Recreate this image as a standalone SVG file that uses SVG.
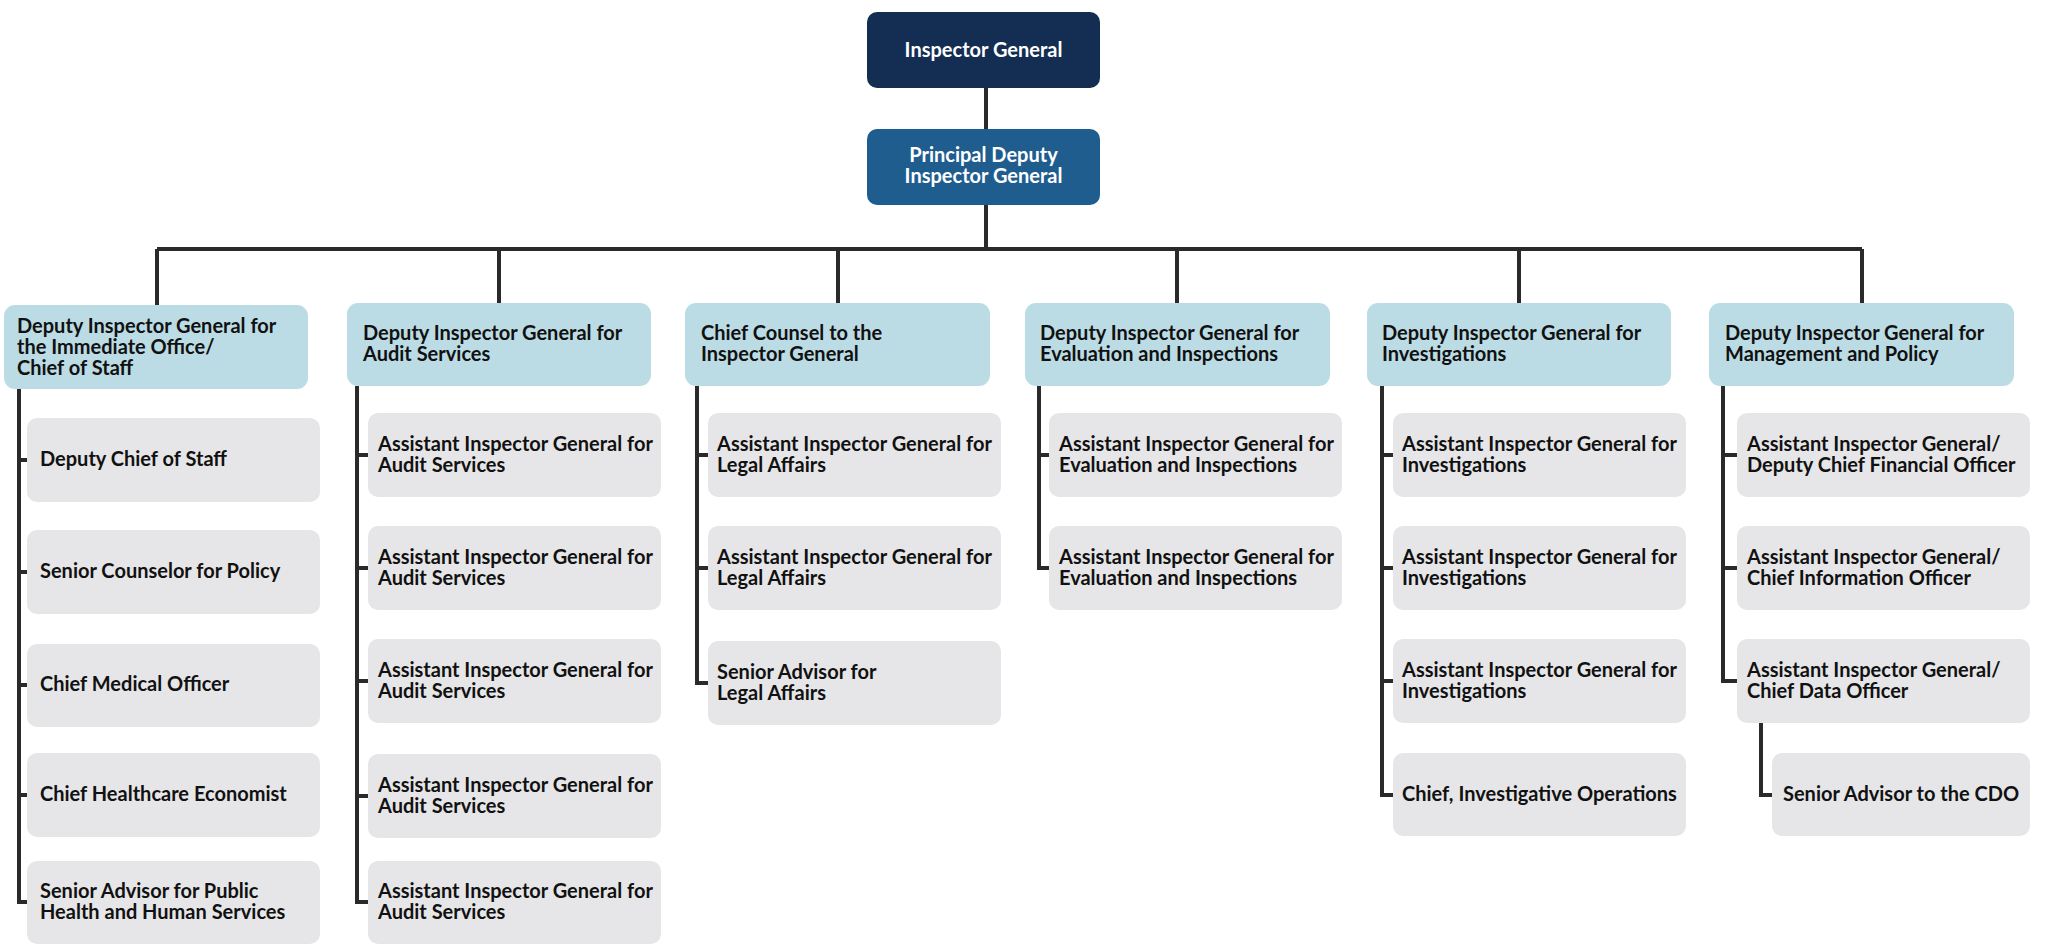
<svg xmlns="http://www.w3.org/2000/svg" width="2048" height="952" viewBox="0 0 2048 952">
<style>
text{font-family:Lato,"Open Sans","Liberation Sans",sans-serif;font-weight:bold;font-size:20px;fill:#111}
.w{fill:#fff;text-anchor:middle}
.top{fill:#132e52}
.pd{fill:#1f5d8f}
.hd{fill:#bcdce5}
.ch{fill:#e6e6e8}
.ln{fill:none;stroke:#2a2a2a;stroke-width:4;stroke-linejoin:miter}
</style>
<rect width="2048" height="952" fill="#fff"/>
<g id="connectors" class="ln">
<path d="M986 88V129M986 205V249M157 249H1862M157 249V305M499 249V303M838 249V303M1177 249V303M1519 249V303M1862 249V303"/>
<path d="M19 389V902H27M19 460H27M19 572H27M19 685H27M19 795H27"/>
<path d="M357 386V902H368M357 455H368M357 568H368M357 681H368M357 796H368"/>
<path d="M697 386V683H708M697 455H708M697 568H708"/>
<path d="M1039 386V568H1049M1039 455H1049"/>
<path d="M1382 386V795H1393M1382 455H1393M1382 568H1393M1382 681H1393"/>
<path d="M1723 386V681H1737M1723 455H1737M1723 568H1737"/>
<path d="M1761 723V795H1772"/>
</g>
<g id="ig"><rect class="top" x="867" y="12" width="233" height="76" rx="10"/><text class="w" x="983.5" y="57">Inspector General</text></g>
<g id="pdig"><rect class="pd" x="867" y="129" width="233" height="76" rx="10"/><text class="w" x="983.5" y="162">Principal Deputy</text><text class="w" x="983.5" y="183">Inspector General</text></g>

<g id="h1"><rect class="hd" x="4" y="305" width="304" height="84" rx="11"/><text x="17" y="333">Deputy Inspector General for</text><text x="17" y="354">the Immediate Office/</text><text x="17" y="375">Chief of Staff</text></g>
<g id="h2"><rect class="hd" x="347" y="303" width="304" height="83" rx="11"/><text x="363" y="340">Deputy Inspector General for</text><text x="363" y="361">Audit Services</text></g>
<g id="h3"><rect class="hd" x="685" y="303" width="305" height="83" rx="11"/><text x="701" y="340">Chief Counsel to the</text><text x="701" y="361">Inspector General</text></g>
<g id="h4"><rect class="hd" x="1025" y="303" width="305" height="83" rx="11"/><text x="1040" y="340">Deputy Inspector General for</text><text x="1040" y="361">Evaluation and Inspections</text></g>
<g id="h5"><rect class="hd" x="1367" y="303" width="304" height="83" rx="11"/><text x="1382" y="340">Deputy Inspector General for</text><text x="1382" y="361">Investigations</text></g>
<g id="h6"><rect class="hd" x="1709" y="303" width="305" height="83" rx="11"/><text x="1725" y="340">Deputy Inspector General for</text><text x="1725" y="361">Management and Policy</text></g>

<g id="c1a"><rect class="ch" x="27" y="418" width="293" height="84" rx="10"/><text x="40" y="466">Deputy Chief of Staff</text></g>
<g id="c1b"><rect class="ch" x="27" y="530" width="293" height="84" rx="10"/><text x="40" y="578">Senior Counselor for Policy</text></g>
<g id="c1c"><rect class="ch" x="27" y="644" width="293" height="83" rx="10"/><text x="40" y="691">Chief Medical Officer</text></g>
<g id="c1d"><rect class="ch" x="27" y="753" width="293" height="84" rx="10"/><text x="40" y="801">Chief Healthcare Economist</text></g>
<g id="c1e"><rect class="ch" x="27" y="861" width="293" height="83" rx="10"/><text x="40" y="898">Senior Advisor for Public</text><text x="40" y="919">Health and Human Services</text></g>

<g id="c2a"><rect class="ch" x="368" y="413" width="293" height="84" rx="10"/><text x="378" y="451">Assistant Inspector General for</text><text x="378" y="472">Audit Services</text></g>
<g id="c2b"><rect class="ch" x="368" y="526" width="293" height="84" rx="10"/><text x="378" y="564">Assistant Inspector General for</text><text x="378" y="585">Audit Services</text></g>
<g id="c2c"><rect class="ch" x="368" y="639" width="293" height="84" rx="10"/><text x="378" y="677">Assistant Inspector General for</text><text x="378" y="698">Audit Services</text></g>
<g id="c2d"><rect class="ch" x="368" y="754" width="293" height="84" rx="10"/><text x="378" y="792">Assistant Inspector General for</text><text x="378" y="813">Audit Services</text></g>
<g id="c2e"><rect class="ch" x="368" y="861" width="293" height="83" rx="10"/><text x="378" y="898">Assistant Inspector General for</text><text x="378" y="919">Audit Services</text></g>

<g id="c3a"><rect class="ch" x="708" y="413" width="293" height="84" rx="10"/><text x="717" y="451">Assistant Inspector General for</text><text x="717" y="472">Legal Affairs</text></g>
<g id="c3b"><rect class="ch" x="708" y="526" width="293" height="84" rx="10"/><text x="717" y="564">Assistant Inspector General for</text><text x="717" y="585">Legal Affairs</text></g>
<g id="c3c"><rect class="ch" x="708" y="641" width="293" height="84" rx="10"/><text x="717" y="679">Senior Advisor for</text><text x="717" y="700">Legal Affairs</text></g>

<g id="c4a"><rect class="ch" x="1049" y="413" width="293" height="84" rx="10"/><text x="1059" y="451">Assistant Inspector General for</text><text x="1059" y="472">Evaluation and Inspections</text></g>
<g id="c4b"><rect class="ch" x="1049" y="526" width="293" height="84" rx="10"/><text x="1059" y="564">Assistant Inspector General for</text><text x="1059" y="585">Evaluation and Inspections</text></g>

<g id="c5a"><rect class="ch" x="1393" y="413" width="293" height="84" rx="10"/><text x="1402" y="451">Assistant Inspector General for</text><text x="1402" y="472">Investigations</text></g>
<g id="c5b"><rect class="ch" x="1393" y="526" width="293" height="84" rx="10"/><text x="1402" y="564">Assistant Inspector General for</text><text x="1402" y="585">Investigations</text></g>
<g id="c5c"><rect class="ch" x="1393" y="639" width="293" height="84" rx="10"/><text x="1402" y="677">Assistant Inspector General for</text><text x="1402" y="698">Investigations</text></g>
<g id="c5d"><rect class="ch" x="1393" y="753" width="293" height="83" rx="10"/><text x="1402" y="801">Chief, Investigative Operations</text></g>

<g id="c6a"><rect class="ch" x="1737" y="413" width="293" height="84" rx="10"/><text x="1747" y="451">Assistant Inspector General/</text><text x="1747" y="472">Deputy Chief Financial Officer</text></g>
<g id="c6b"><rect class="ch" x="1737" y="526" width="293" height="84" rx="10"/><text x="1747" y="564">Assistant Inspector General/</text><text x="1747" y="585">Chief Information Officer</text></g>
<g id="c6c"><rect class="ch" x="1737" y="639" width="293" height="84" rx="10"/><text x="1747" y="677">Assistant Inspector General/</text><text x="1747" y="698">Chief Data Officer</text></g>
<g id="c6d"><rect class="ch" x="1772" y="753" width="258" height="83" rx="10"/><text x="1783" y="801">Senior Advisor to the CDO</text></g>
</svg>
